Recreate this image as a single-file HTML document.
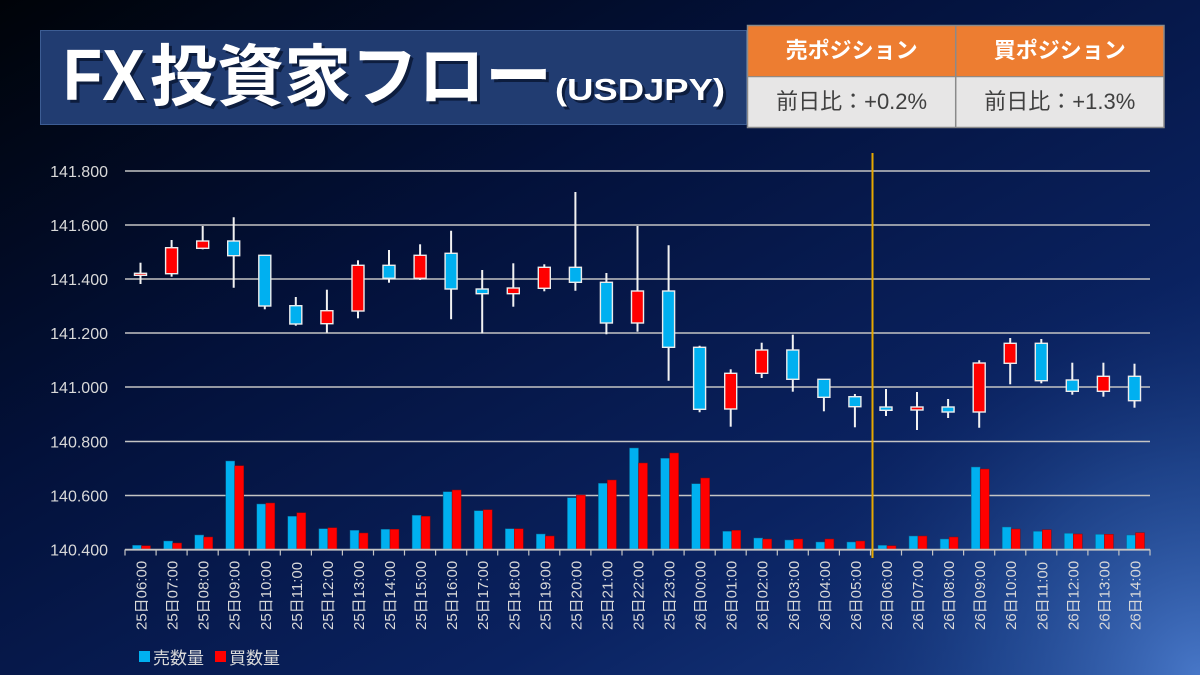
<!DOCTYPE html>
<html><head><meta charset="utf-8"><style>
html,body{margin:0;padding:0;background:#020817;}
svg{display:block;}
text{font-family:"Liberation Sans","Noto Sans CJK JP",sans-serif;}
</style></head><body>
<svg width="1200" height="675" viewBox="0 0 1200 675" xmlns="http://www.w3.org/2000/svg">
<defs>
<linearGradient id="bg" x1="0" y1="0" x2="1" y2="1">
<stop offset="0" stop-color="#000308"/>
<stop offset="0.35" stop-color="#03113a"/>
<stop offset="0.7" stop-color="#0a2260"/>
<stop offset="1" stop-color="#1a3e88"/>
</linearGradient>
<radialGradient id="glow" cx="1200" cy="675" r="420" gradientUnits="userSpaceOnUse">
<stop offset="0" stop-color="#4a7acb" stop-opacity="0.95"/>
<stop offset="0.5" stop-color="#2a559f" stop-opacity="0.5"/>
<stop offset="1" stop-color="#0a2260" stop-opacity="0"/>
</radialGradient>
</defs>
<rect width="1200" height="675" fill="url(#bg)"/>
<rect width="1200" height="675" fill="url(#glow)"/>

<!-- Title box -->
<rect x="40.5" y="30.5" width="706" height="94" fill="#213c71" stroke="#3d5d94" stroke-width="1"/>
<g font-weight="bold">
<text x="66" y="103" font-size="72" fill="#06102a" fill-opacity="0.7" textLength="82" lengthAdjust="spacingAndGlyphs" font-family="Liberation Sans, sans-serif">FX</text>
<text x="153" y="103" font-size="67" fill="#06102a" fill-opacity="0.7" font-family="Noto Sans CJK JP, sans-serif" textLength="402" lengthAdjust="spacingAndGlyphs">投資家フロー</text>
<text x="558" y="103" font-size="31" fill="#06102a" fill-opacity="0.7" textLength="170" lengthAdjust="spacingAndGlyphs">(USDJPY)</text>
<text x="63" y="100" font-size="72" fill="#ffffff" textLength="82" lengthAdjust="spacingAndGlyphs" font-family="Liberation Sans, sans-serif">FX</text>
<text x="150" y="100" font-size="67" fill="#ffffff" font-family="Noto Sans CJK JP, sans-serif" textLength="402" lengthAdjust="spacingAndGlyphs">投資家フロー</text>
<text x="555" y="100" font-size="31" fill="#ffffff" textLength="170" lengthAdjust="spacingAndGlyphs">(USDJPY)</text>
</g>

<!-- Table -->
<rect x="747.5" y="25.5" width="416.5" height="51" fill="#ED7D31"/>
<rect x="747.5" y="76.5" width="416.5" height="51" fill="#E7E6E6"/>
<rect x="747.5" y="25.5" width="416.5" height="102" fill="none" stroke="#8a8a8a" stroke-width="1.5"/>
<line x1="955.7" y1="25.5" x2="955.7" y2="127.5" stroke="#8a8a8a" stroke-width="1.5"/>
<line x1="747.5" y1="76.7" x2="1164" y2="76.7" stroke="#8a8a8a" stroke-width="1.2"/>
<text x="851.6" y="58" font-size="22" font-weight="bold" fill="#ffffff" text-anchor="middle">売ポジション</text>
<text x="1059.8" y="58" font-size="22" font-weight="bold" fill="#ffffff" text-anchor="middle">買ポジション</text>
<text x="851.6" y="109" font-size="22" fill="#404040" text-anchor="middle">前日比：+0.2%</text>
<text x="1059.8" y="109" font-size="22" fill="#404040" text-anchor="middle">前日比：+1.3%</text>

<!-- Gridlines -->
<g stroke="#c4c4c4" stroke-width="1.5">
<line x1="125" y1="171" x2="1150" y2="171"/>
<line x1="125" y1="225" x2="1150" y2="225"/>
<line x1="125" y1="279" x2="1150" y2="279"/>
<line x1="125" y1="333" x2="1150" y2="333"/>
<line x1="125" y1="387" x2="1150" y2="387"/>
<line x1="125" y1="441.5" x2="1150" y2="441.5"/>
<line x1="125" y1="495.5" x2="1150" y2="495.5"/>
</g>

<!-- Y labels -->
<g font-size="16" fill="#d9d9d9" text-anchor="end">
<text x="108" y="177">141.800</text>
<text x="108" y="231">141.600</text>
<text x="108" y="285">141.400</text>
<text x="108" y="339">141.200</text>
<text x="108" y="393">141.000</text>
<text x="108" y="447.5">140.800</text>
<text x="108" y="501.5">140.600</text>
<text x="108" y="555.5">140.400</text>
</g>

<!-- Volume bars -->
<g fill="#00B0F0" stroke="#0a5f8a" stroke-width="0.5">
<rect x="132.5" y="545.3" width="9" height="3.7"/>
<rect x="163.6" y="541" width="9" height="8"/>
<rect x="194.7" y="535" width="9" height="14"/>
<rect x="225.7" y="461" width="9" height="88"/>
<rect x="256.8" y="504" width="9" height="45"/>
<rect x="287.8" y="516.3" width="9" height="32.7"/>
<rect x="318.9" y="528.7" width="9" height="20.3"/>
<rect x="350" y="530.3" width="9" height="18.7"/>
<rect x="381" y="529.3" width="9" height="19.7"/>
<rect x="412.1" y="515.3" width="9" height="33.7"/>
<rect x="443.1" y="491.7" width="9" height="57.3"/>
<rect x="474.2" y="510.7" width="9" height="38.3"/>
<rect x="505.3" y="528.7" width="9" height="20.3"/>
<rect x="536.3" y="534" width="9" height="15"/>
<rect x="567.4" y="497.7" width="9" height="51.3"/>
<rect x="598.4" y="483.3" width="9" height="65.7"/>
<rect x="629.5" y="448" width="9" height="101"/>
<rect x="660.6" y="458.3" width="9" height="90.7"/>
<rect x="691.6" y="483.7" width="9" height="65.3"/>
<rect x="722.7" y="531.3" width="9" height="17.7"/>
<rect x="753.7" y="538" width="9" height="11"/>
<rect x="784.8" y="540" width="9" height="9"/>
<rect x="815.9" y="542" width="9" height="7"/>
<rect x="846.9" y="542" width="9" height="7"/>
<rect x="878" y="545.3" width="9" height="3.7"/>
<rect x="909" y="536" width="9" height="13"/>
<rect x="940.1" y="539" width="9" height="10"/>
<rect x="971.2" y="467" width="9" height="82"/>
<rect x="1002.2" y="527" width="9" height="22"/>
<rect x="1033.3" y="531.3" width="9" height="17.7"/>
<rect x="1064.3" y="533.3" width="9" height="15.7"/>
<rect x="1095.4" y="534.3" width="9" height="14.7"/>
<rect x="1126.5" y="535" width="9" height="14"/>
</g>
<g fill="#FF0000" stroke="#8a0a0a" stroke-width="0.5">
<rect x="141.5" y="545.7" width="9" height="3.3"/>
<rect x="172.6" y="543" width="9" height="6"/>
<rect x="203.7" y="537" width="9" height="12"/>
<rect x="234.7" y="465.7" width="9" height="83.3"/>
<rect x="265.8" y="503" width="9" height="46"/>
<rect x="296.8" y="512.7" width="9" height="36.3"/>
<rect x="327.9" y="527.7" width="9" height="21.3"/>
<rect x="359" y="533" width="9" height="16"/>
<rect x="390" y="529.3" width="9" height="19.7"/>
<rect x="421.1" y="516.3" width="9" height="32.7"/>
<rect x="452.1" y="490" width="9" height="59"/>
<rect x="483.2" y="509.7" width="9" height="39.3"/>
<rect x="514.3" y="528.7" width="9" height="20.3"/>
<rect x="545.3" y="536" width="9" height="13"/>
<rect x="576.4" y="495" width="9" height="54"/>
<rect x="607.4" y="480" width="9" height="69"/>
<rect x="638.5" y="463" width="9" height="86"/>
<rect x="669.6" y="453" width="9" height="96"/>
<rect x="700.6" y="478" width="9" height="71"/>
<rect x="731.7" y="530.3" width="9" height="18.7"/>
<rect x="762.7" y="539" width="9" height="10"/>
<rect x="793.8" y="539" width="9" height="10"/>
<rect x="824.9" y="539" width="9" height="10"/>
<rect x="855.9" y="541" width="9" height="8"/>
<rect x="887" y="545.7" width="9" height="3.3"/>
<rect x="918" y="536" width="9" height="13"/>
<rect x="949.1" y="537" width="9" height="12"/>
<rect x="980.2" y="469" width="9" height="80"/>
<rect x="1011.2" y="529" width="9" height="20"/>
<rect x="1042.3" y="529.7" width="9" height="19.3"/>
<rect x="1073.3" y="534" width="9" height="15"/>
<rect x="1104.4" y="534.3" width="9" height="14.7"/>
<rect x="1135.5" y="532.7" width="9" height="16.3"/>
</g>

<!-- X axis -->
<line x1="125" y1="549.7" x2="1150" y2="549.7" stroke="#c4c4c4" stroke-width="1.8"/>
<g stroke="#c4c4c4" stroke-width="1.2">
<line x1="125" y1="549.5" x2="125" y2="555.5"/><line x1="156.1" y1="549.5" x2="156.1" y2="555.5"/><line x1="187.1" y1="549.5" x2="187.1" y2="555.5"/><line x1="218.2" y1="549.5" x2="218.2" y2="555.5"/><line x1="249.2" y1="549.5" x2="249.2" y2="555.5"/><line x1="280.3" y1="549.5" x2="280.3" y2="555.5"/><line x1="311.4" y1="549.5" x2="311.4" y2="555.5"/><line x1="342.4" y1="549.5" x2="342.4" y2="555.5"/><line x1="373.5" y1="549.5" x2="373.5" y2="555.5"/><line x1="404.5" y1="549.5" x2="404.5" y2="555.5"/><line x1="435.6" y1="549.5" x2="435.6" y2="555.5"/><line x1="466.7" y1="549.5" x2="466.7" y2="555.5"/><line x1="497.7" y1="549.5" x2="497.7" y2="555.5"/><line x1="528.8" y1="549.5" x2="528.8" y2="555.5"/><line x1="559.8" y1="549.5" x2="559.8" y2="555.5"/><line x1="590.9" y1="549.5" x2="590.9" y2="555.5"/><line x1="622" y1="549.5" x2="622" y2="555.5"/><line x1="653" y1="549.5" x2="653" y2="555.5"/><line x1="684.1" y1="549.5" x2="684.1" y2="555.5"/><line x1="715.2" y1="549.5" x2="715.2" y2="555.5"/><line x1="746.2" y1="549.5" x2="746.2" y2="555.5"/><line x1="777.3" y1="549.5" x2="777.3" y2="555.5"/><line x1="808.3" y1="549.5" x2="808.3" y2="555.5"/><line x1="839.4" y1="549.5" x2="839.4" y2="555.5"/><line x1="870.5" y1="549.5" x2="870.5" y2="555.5"/><line x1="901.5" y1="549.5" x2="901.5" y2="555.5"/><line x1="932.6" y1="549.5" x2="932.6" y2="555.5"/><line x1="963.6" y1="549.5" x2="963.6" y2="555.5"/><line x1="994.7" y1="549.5" x2="994.7" y2="555.5"/><line x1="1025.8" y1="549.5" x2="1025.8" y2="555.5"/><line x1="1056.8" y1="549.5" x2="1056.8" y2="555.5"/><line x1="1087.9" y1="549.5" x2="1087.9" y2="555.5"/><line x1="1118.9" y1="549.5" x2="1118.9" y2="555.5"/><line x1="1150" y1="549.5" x2="1150" y2="555.5"/>
</g>

<!-- Wicks -->
<g stroke="#f2f2f2" stroke-width="2">
<line x1="140.5" y1="262.7" x2="140.5" y2="284"/>
<line x1="171.6" y1="240" x2="171.6" y2="276.7"/>
<line x1="202.7" y1="226" x2="202.7" y2="249.3"/>
<line x1="233.7" y1="217.3" x2="233.7" y2="287.7"/>
<line x1="264.8" y1="255.3" x2="264.8" y2="309.3"/>
<line x1="295.8" y1="297" x2="295.8" y2="325.7"/>
<line x1="326.9" y1="289.7" x2="326.9" y2="332.7"/>
<line x1="358" y1="260.3" x2="358" y2="318.3"/>
<line x1="389" y1="250" x2="389" y2="282.7"/>
<line x1="420.1" y1="244.3" x2="420.1" y2="280"/>
<line x1="451.1" y1="230.7" x2="451.1" y2="319.3"/>
<line x1="482.2" y1="270" x2="482.2" y2="333.3"/>
<line x1="513.3" y1="263.3" x2="513.3" y2="306.7"/>
<line x1="544.3" y1="264.3" x2="544.3" y2="291.3"/>
<line x1="575.4" y1="192" x2="575.4" y2="290.7"/>
<line x1="606.4" y1="273" x2="606.4" y2="334.3"/>
<line x1="637.5" y1="226" x2="637.5" y2="331.7"/>
<line x1="668.6" y1="245.3" x2="668.6" y2="380.7"/>
<line x1="699.6" y1="345.7" x2="699.6" y2="412.3"/>
<line x1="730.7" y1="369.3" x2="730.7" y2="426.7"/>
<line x1="761.7" y1="342.7" x2="761.7" y2="378"/>
<line x1="792.8" y1="334.7" x2="792.8" y2="391.7"/>
<line x1="823.9" y1="379.3" x2="823.9" y2="411.3"/>
<line x1="854.9" y1="394" x2="854.9" y2="427.3"/>
<line x1="886" y1="389" x2="886" y2="416"/>
<line x1="917" y1="392" x2="917" y2="430"/>
<line x1="948.1" y1="399" x2="948.1" y2="418"/>
<line x1="979.2" y1="360.3" x2="979.2" y2="427.7"/>
<line x1="1010.2" y1="338" x2="1010.2" y2="384.3"/>
<line x1="1041.3" y1="339" x2="1041.3" y2="383.3"/>
<line x1="1072.3" y1="362.7" x2="1072.3" y2="394.7"/>
<line x1="1103.4" y1="362.7" x2="1103.4" y2="396.7"/>
<line x1="1134.5" y1="363.7" x2="1134.5" y2="407.7"/>
</g>

<!-- Bodies -->
<g stroke="#ececec" stroke-width="1.4">
<rect x="134.5" y="273.3" width="12" height="2" fill="#FF0000"/>
<rect x="165.6" y="247.7" width="12" height="26" fill="#FF0000"/>
<rect x="196.7" y="241" width="12" height="7.3" fill="#FF0000"/>
<rect x="227.7" y="241" width="12" height="14.7" fill="#00B0F0"/>
<rect x="258.8" y="255.3" width="12" height="50.7" fill="#00B0F0"/>
<rect x="289.8" y="305.7" width="12" height="18.3" fill="#00B0F0"/>
<rect x="320.9" y="310.7" width="12" height="13" fill="#FF0000"/>
<rect x="352" y="265.3" width="12" height="45.7" fill="#FF0000"/>
<rect x="383" y="265.3" width="12" height="13" fill="#00B0F0"/>
<rect x="414.1" y="255.3" width="12" height="23" fill="#FF0000"/>
<rect x="445.1" y="253.3" width="12" height="35.7" fill="#00B0F0"/>
<rect x="476.2" y="289" width="12" height="4.7" fill="#00B0F0"/>
<rect x="507.3" y="288" width="12" height="5.7" fill="#FF0000"/>
<rect x="538.3" y="267.3" width="12" height="21" fill="#FF0000"/>
<rect x="569.4" y="267.3" width="12" height="15" fill="#00B0F0"/>
<rect x="600.4" y="282.3" width="12" height="40.7" fill="#00B0F0"/>
<rect x="631.5" y="291" width="12" height="32" fill="#FF0000"/>
<rect x="662.6" y="291" width="12" height="56.3" fill="#00B0F0"/>
<rect x="693.6" y="347.3" width="12" height="62" fill="#00B0F0"/>
<rect x="724.7" y="373.3" width="12" height="35.7" fill="#FF0000"/>
<rect x="755.7" y="350" width="12" height="23.3" fill="#FF0000"/>
<rect x="786.8" y="350" width="12" height="29.3" fill="#00B0F0"/>
<rect x="817.9" y="379.3" width="12" height="18" fill="#00B0F0"/>
<rect x="848.9" y="396.7" width="12" height="10" fill="#00B0F0"/>
<rect x="880" y="407" width="12" height="3.3" fill="#00B0F0"/>
<rect x="911" y="407" width="12" height="3" fill="#FF0000"/>
<rect x="942.1" y="407" width="12" height="5" fill="#00B0F0"/>
<rect x="973.2" y="363" width="12" height="49" fill="#FF0000"/>
<rect x="1004.2" y="343.3" width="12" height="20" fill="#FF0000"/>
<rect x="1035.3" y="343.3" width="12" height="37.4" fill="#00B0F0"/>
<rect x="1066.3" y="380" width="12" height="11.3" fill="#00B0F0"/>
<rect x="1097.4" y="376.3" width="12" height="15" fill="#FF0000"/>
<rect x="1128.5" y="376.3" width="12" height="24.4" fill="#00B0F0"/>
</g>

<!-- Orange separator -->
<line x1="872.5" y1="153" x2="872.5" y2="558" stroke="#E6A800" stroke-width="2"/>

<!-- X labels -->
<g font-size="15" fill="#d9d9d9">
<text transform="translate(146.5,630) rotate(-90)">25日06:00</text>
<text transform="translate(177.6,630) rotate(-90)">25日07:00</text>
<text transform="translate(208.7,630) rotate(-90)">25日08:00</text>
<text transform="translate(239.7,630) rotate(-90)">25日09:00</text>
<text transform="translate(270.8,630) rotate(-90)">25日10:00</text>
<text transform="translate(301.8,630) rotate(-90)">25日11:00</text>
<text transform="translate(332.9,630) rotate(-90)">25日12:00</text>
<text transform="translate(364,630) rotate(-90)">25日13:00</text>
<text transform="translate(395,630) rotate(-90)">25日14:00</text>
<text transform="translate(426.1,630) rotate(-90)">25日15:00</text>
<text transform="translate(457.1,630) rotate(-90)">25日16:00</text>
<text transform="translate(488.2,630) rotate(-90)">25日17:00</text>
<text transform="translate(519.3,630) rotate(-90)">25日18:00</text>
<text transform="translate(550.3,630) rotate(-90)">25日19:00</text>
<text transform="translate(581.4,630) rotate(-90)">25日20:00</text>
<text transform="translate(612.4,630) rotate(-90)">25日21:00</text>
<text transform="translate(643.5,630) rotate(-90)">25日22:00</text>
<text transform="translate(674.6,630) rotate(-90)">25日23:00</text>
<text transform="translate(705.6,630) rotate(-90)">26日00:00</text>
<text transform="translate(736.7,630) rotate(-90)">26日01:00</text>
<text transform="translate(767.7,630) rotate(-90)">26日02:00</text>
<text transform="translate(798.8,630) rotate(-90)">26日03:00</text>
<text transform="translate(829.9,630) rotate(-90)">26日04:00</text>
<text transform="translate(860.9,630) rotate(-90)">26日05:00</text>
<text transform="translate(892,630) rotate(-90)">26日06:00</text>
<text transform="translate(923,630) rotate(-90)">26日07:00</text>
<text transform="translate(954.1,630) rotate(-90)">26日08:00</text>
<text transform="translate(985.2,630) rotate(-90)">26日09:00</text>
<text transform="translate(1016.2,630) rotate(-90)">26日10:00</text>
<text transform="translate(1047.3,630) rotate(-90)">26日11:00</text>
<text transform="translate(1078.3,630) rotate(-90)">26日12:00</text>
<text transform="translate(1109.4,630) rotate(-90)">26日13:00</text>
<text transform="translate(1140.5,630) rotate(-90)">26日14:00</text>
</g>

<!-- Legend -->
<rect x="139" y="651" width="11" height="11" fill="#00B0F0"/>
<text x="153" y="664" font-size="17" fill="#d9d9d9">売数量</text>
<rect x="215" y="651" width="11" height="11" fill="#FF0000"/>
<text x="229" y="664" font-size="17" fill="#d9d9d9">買数量</text>
</svg>
</body></html>
